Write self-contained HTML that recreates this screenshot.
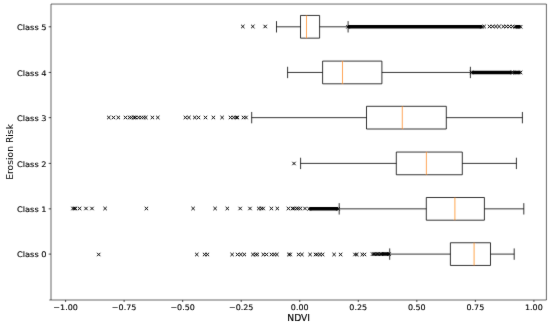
<!DOCTYPE html>
<html><head><meta charset="utf-8"><title>Boxplot</title>
<style>html,body{margin:0;padding:0;background:#fff;}svg{display:block;}</style>
</head><body>
<svg width="550" height="324" viewBox="0 0 550 324">
<defs><filter id="b" filterUnits="userSpaceOnUse" x="0" y="0" width="550" height="324"><feConvolveMatrix order="3" kernelMatrix="0.0064 0.0672 0.0064 0.0672 0.7056 0.0672 0.0064 0.0672 0.0064" divisor="1" edgeMode="duplicate" preserveAlpha="false"/></filter><filter id="t" filterUnits="userSpaceOnUse" x="0" y="0" width="550" height="324"><feConvolveMatrix order="3" kernelMatrix="0.0036 0.0528 0.0036 0.0528 0.7744 0.0528 0.0036 0.0528 0.0036" divisor="1" edgeMode="duplicate" preserveAlpha="false"/></filter></defs>
<rect width="550" height="324" fill="#fff"/>
<g filter="url(#b)">
<path d="M241.1 24.8l3.4 3.4M241.1 28.2l3.4 -3.4M251.1 24.8l3.4 3.4M251.1 28.2l3.4 -3.4M263.5 24.8l3.4 3.4M263.5 28.2l3.4 -3.4M346.3 25.1l3.4 3.4M346.3 28.5l3.4 -3.4M480.3 25.1l3.4 3.4M480.3 28.5l3.4 -3.4M482.4 24.8l3.4 3.4M482.4 28.2l3.4 -3.4M487.8 24.8l3.4 3.4M487.8 28.2l3.4 -3.4M491 24.8l3.4 3.4M491 28.2l3.4 -3.4M494.2 24.8l3.4 3.4M494.2 28.2l3.4 -3.4M497.4 24.8l3.4 3.4M497.4 28.2l3.4 -3.4M501.6 24.8l3.4 3.4M501.6 28.2l3.4 -3.4M504.7 24.8l3.4 3.4M504.7 28.2l3.4 -3.4M507.8 24.8l3.4 3.4M507.8 28.2l3.4 -3.4M510.9 24.8l3.4 3.4M510.9 28.2l3.4 -3.4M513.5 25.1l3.4 3.4M513.5 28.5l3.4 -3.4M518.9 25.1l3.4 3.4M518.9 28.5l3.4 -3.4M469.8 70.75l3.4 3.4M469.8 74.15l3.4 -3.4M510.1 70.75l3.4 3.4M510.1 74.15l3.4 -3.4M511.5 70.75l3.4 3.4M511.5 74.15l3.4 -3.4M518.9 70.75l3.4 3.4M518.9 74.15l3.4 -3.4M107.1 115.8l3.4 3.4M107.1 119.2l3.4 -3.4M111.8 115.8l3.4 3.4M111.8 119.2l3.4 -3.4M116.6 115.8l3.4 3.4M116.6 119.2l3.4 -3.4M123.8 115.8l3.4 3.4M123.8 119.2l3.4 -3.4M127.9 115.8l3.4 3.4M127.9 119.2l3.4 -3.4M129.8 115.8l3.4 3.4M129.8 119.2l3.4 -3.4M132.4 115.8l3.4 3.4M132.4 119.2l3.4 -3.4M133.8 115.8l3.4 3.4M133.8 119.2l3.4 -3.4M137 115.8l3.4 3.4M137 119.2l3.4 -3.4M139.8 115.8l3.4 3.4M139.8 119.2l3.4 -3.4M141.9 115.8l3.4 3.4M141.9 119.2l3.4 -3.4M144.1 115.8l3.4 3.4M144.1 119.2l3.4 -3.4M150.7 115.8l3.4 3.4M150.7 119.2l3.4 -3.4M156.1 115.8l3.4 3.4M156.1 119.2l3.4 -3.4M183.7 115.8l3.4 3.4M183.7 119.2l3.4 -3.4M187.2 115.8l3.4 3.4M187.2 119.2l3.4 -3.4M193.1 115.8l3.4 3.4M193.1 119.2l3.4 -3.4M196.8 115.8l3.4 3.4M196.8 119.2l3.4 -3.4M203.8 115.8l3.4 3.4M203.8 119.2l3.4 -3.4M211.7 115.8l3.4 3.4M211.7 119.2l3.4 -3.4M220.4 115.8l3.4 3.4M220.4 119.2l3.4 -3.4M228.8 115.8l3.4 3.4M228.8 119.2l3.4 -3.4M232 115.8l3.4 3.4M232 119.2l3.4 -3.4M234.5 115.8l3.4 3.4M234.5 119.2l3.4 -3.4M235.7 115.8l3.4 3.4M235.7 119.2l3.4 -3.4M241.8 115.8l3.4 3.4M241.8 119.2l3.4 -3.4M244.3 115.8l3.4 3.4M244.3 119.2l3.4 -3.4M292.3 161.8l3.4 3.4M292.3 165.2l3.4 -3.4M71.3 206.8l3.4 3.4M71.3 210.2l3.4 -3.4M72.5 206.8l3.4 3.4M72.5 210.2l3.4 -3.4M73.7 206.8l3.4 3.4M73.7 210.2l3.4 -3.4M77.9 206.8l3.4 3.4M77.9 210.2l3.4 -3.4M84.3 206.8l3.4 3.4M84.3 210.2l3.4 -3.4M90.3 206.8l3.4 3.4M90.3 210.2l3.4 -3.4M103.4 206.8l3.4 3.4M103.4 210.2l3.4 -3.4M144.7 206.8l3.4 3.4M144.7 210.2l3.4 -3.4M191.4 206.8l3.4 3.4M191.4 210.2l3.4 -3.4M213.4 206.8l3.4 3.4M213.4 210.2l3.4 -3.4M225.6 206.8l3.4 3.4M225.6 210.2l3.4 -3.4M238.5 206.8l3.4 3.4M238.5 210.2l3.4 -3.4M248.3 206.8l3.4 3.4M248.3 210.2l3.4 -3.4M257.1 206.8l3.4 3.4M257.1 210.2l3.4 -3.4M259.7 206.8l3.4 3.4M259.7 210.2l3.4 -3.4M261.5 206.8l3.4 3.4M261.5 210.2l3.4 -3.4M269.7 206.8l3.4 3.4M269.7 210.2l3.4 -3.4M275.6 206.8l3.4 3.4M275.6 210.2l3.4 -3.4M286.7 206.8l3.4 3.4M286.7 210.2l3.4 -3.4M290.8 206.8l3.4 3.4M290.8 210.2l3.4 -3.4M292.3 206.8l3.4 3.4M292.3 210.2l3.4 -3.4M294.8 206.8l3.4 3.4M294.8 210.2l3.4 -3.4M296.5 206.8l3.4 3.4M296.5 210.2l3.4 -3.4M298.7 206.8l3.4 3.4M298.7 210.2l3.4 -3.4M303.3 206.8l3.4 3.4M303.3 210.2l3.4 -3.4M307.5 207.15l3.4 3.4M307.5 210.55l3.4 -3.4M336.3 207.15l3.4 3.4M336.3 210.55l3.4 -3.4M97 252.8l3.4 3.4M97 256.2l3.4 -3.4M195.1 252.8l3.4 3.4M195.1 256.2l3.4 -3.4M202.9 252.8l3.4 3.4M202.9 256.2l3.4 -3.4M205.7 252.8l3.4 3.4M205.7 256.2l3.4 -3.4M230.4 252.8l3.4 3.4M230.4 256.2l3.4 -3.4M235.8 252.8l3.4 3.4M235.8 256.2l3.4 -3.4M239.1 252.8l3.4 3.4M239.1 256.2l3.4 -3.4M242.6 252.8l3.4 3.4M242.6 256.2l3.4 -3.4M251.2 252.8l3.4 3.4M251.2 256.2l3.4 -3.4M253.9 252.8l3.4 3.4M253.9 256.2l3.4 -3.4M255.6 252.8l3.4 3.4M255.6 256.2l3.4 -3.4M261.6 252.8l3.4 3.4M261.6 256.2l3.4 -3.4M264.8 252.8l3.4 3.4M264.8 256.2l3.4 -3.4M269.8 252.8l3.4 3.4M269.8 256.2l3.4 -3.4M272.5 252.8l3.4 3.4M272.5 256.2l3.4 -3.4M275.2 252.8l3.4 3.4M275.2 256.2l3.4 -3.4M287.2 252.8l3.4 3.4M287.2 256.2l3.4 -3.4M288.5 252.8l3.4 3.4M288.5 256.2l3.4 -3.4M296.9 252.8l3.4 3.4M296.9 256.2l3.4 -3.4M300.2 252.8l3.4 3.4M300.2 256.2l3.4 -3.4M308.4 252.8l3.4 3.4M308.4 256.2l3.4 -3.4M313.8 252.8l3.4 3.4M313.8 256.2l3.4 -3.4M315.5 252.8l3.4 3.4M315.5 256.2l3.4 -3.4M318.2 252.8l3.4 3.4M318.2 256.2l3.4 -3.4M320.9 252.8l3.4 3.4M320.9 256.2l3.4 -3.4M332.4 252.8l3.4 3.4M332.4 256.2l3.4 -3.4M338.9 252.8l3.4 3.4M338.9 256.2l3.4 -3.4M353.3 252.8l3.4 3.4M353.3 256.2l3.4 -3.4M355.1 252.8l3.4 3.4M355.1 256.2l3.4 -3.4M360.6 252.8l3.4 3.4M360.6 256.2l3.4 -3.4M362.8 252.8l3.4 3.4M362.8 256.2l3.4 -3.4M370.9 252.4l3.4 3.4M370.9 255.8l3.4 -3.4M372.3 252.4l3.4 3.4M372.3 255.8l3.4 -3.4M373.7 252.4l3.4 3.4M373.7 255.8l3.4 -3.4M375.1 252.4l3.4 3.4M375.1 255.8l3.4 -3.4M376.5 252.4l3.4 3.4M376.5 255.8l3.4 -3.4M377.9 252.4l3.4 3.4M377.9 255.8l3.4 -3.4M379.3 252.4l3.4 3.4M379.3 255.8l3.4 -3.4M379.8 252.4l3.4 3.4M379.8 255.8l3.4 -3.4M387.3 252.4l3.4 3.4M387.3 255.8l3.4 -3.4" stroke="#000" stroke-width="1.0" fill="none"/>
<path d="M348 25.05H482V28.55H348ZM515.2 25.05H520.6V28.55H515.2ZM471.5 70.7H511.8V74.2H471.5ZM513.2 70.7H520.6V74.2H513.2ZM309.2 207.1H338V210.6H309.2ZM381.5 252.35H389V255.85H381.5Z" fill="#000"/>
<path d="M276.5 26.8H300.5M319.6 26.8H348.1M276.5 21.12V32.48M348.1 21.12V32.48M287.6 72.45H322.6M381.9 72.45H470.4M287.6 66.77V78.13M470.4 66.77V78.13M251.7 117.65H366.5M446.3 117.65H522.4M251.7 111.97V123.33M522.4 111.97V123.33M300.6 163.4H396.3M462.3 163.4H516.4M300.6 157.72V169.08M516.4 157.72V169.08M339.2 208.85H426.3M484.4 208.85H523.8M339.2 203.17V214.53M523.8 203.17V214.53M389.7 254.1H450.4M490.5 254.1H514.2M389.7 248.42V259.78M514.2 248.42V259.78" stroke="#000" stroke-width="0.8" fill="none"/>
<path d="M300.5 15.45H319.6V38.15H300.5ZM322.6 61.1H381.9V83.8H322.6ZM366.5 106.3H446.3V129H366.5ZM396.3 152.05H462.3V174.75H396.3ZM426.3 197.5H484.4V220.2H426.3ZM450.4 242.75H490.5V265.45H450.4Z" stroke="#000" stroke-width="0.8" fill="none"/>
<path d="M306.5 15.45V38.15M342.5 61.1V83.8M402.3 106.3V129M426.4 152.05V174.75M454.9 197.5V220.2M474.1 242.75V265.45" stroke="#ff7f0e" stroke-width="0.7" fill="none"/>
<path d="M51 4.05V300H546.4V4.05ZM49.3 300H51" stroke="#000" stroke-width="0.6" fill="none"/>
<path d="M65.6 300v2.0M124.14 300v2.0M182.68 300v2.0M241.21 300v2.0M299.75 300v2.0M358.29 300v2.0M416.82 300v2.0M475.36 300v2.0M533.9 300v2.0M51 254.1h-2.3M51 208.85h-2.3M51 163.4h-2.3M51 117.65h-2.3M51 72.45h-2.3M51 26.8h-2.3" stroke="#000" stroke-width="0.7"/>
</g>
<g filter="url(#t)">
<g font-family="DejaVu Sans, Liberation Sans, sans-serif" font-size="8.1" fill="#000" stroke="#000" stroke-width="0.12">
<text x="65.6" y="310.0" text-anchor="middle" font-size="7.6" textLength="24.51" lengthAdjust="spacingAndGlyphs">−1.00</text>
<text x="124.14" y="310.0" text-anchor="middle" font-size="7.6" textLength="24.51" lengthAdjust="spacingAndGlyphs">−0.75</text>
<text x="182.68" y="310.0" text-anchor="middle" font-size="7.6" textLength="24.51" lengthAdjust="spacingAndGlyphs">−0.50</text>
<text x="241.21" y="310.0" text-anchor="middle" font-size="7.6" textLength="24.51" lengthAdjust="spacingAndGlyphs">−0.25</text>
<text x="299.75" y="310.0" text-anchor="middle" font-size="7.6" textLength="17.82" lengthAdjust="spacingAndGlyphs">0.00</text>
<text x="358.29" y="310.0" text-anchor="middle" font-size="7.6" textLength="17.82" lengthAdjust="spacingAndGlyphs">0.25</text>
<text x="416.82" y="310.0" text-anchor="middle" font-size="7.6" textLength="17.82" lengthAdjust="spacingAndGlyphs">0.50</text>
<text x="475.36" y="310.0" text-anchor="middle" font-size="7.6" textLength="17.82" lengthAdjust="spacingAndGlyphs">0.75</text>
<text x="533.9" y="310.0" text-anchor="middle" font-size="7.6" textLength="17.82" lengthAdjust="spacingAndGlyphs">1.00</text>
<text x="46.6" y="257.4" text-anchor="end" font-size="7.6" textLength="29.6" lengthAdjust="spacingAndGlyphs">Class 0</text>
<text x="46.6" y="212.15" text-anchor="end" font-size="7.6" textLength="29.6" lengthAdjust="spacingAndGlyphs">Class 1</text>
<text x="46.6" y="166.7" text-anchor="end" font-size="7.6" textLength="29.6" lengthAdjust="spacingAndGlyphs">Class 2</text>
<text x="46.6" y="120.95" text-anchor="end" font-size="7.6" textLength="29.6" lengthAdjust="spacingAndGlyphs">Class 3</text>
<text x="46.6" y="75.75" text-anchor="end" font-size="7.6" textLength="29.6" lengthAdjust="spacingAndGlyphs">Class 4</text>
<text x="46.6" y="30.1" text-anchor="end" font-size="7.6" textLength="29.6" lengthAdjust="spacingAndGlyphs">Class 5</text>
</g>
<g font-family="DejaVu Sans, Liberation Sans, sans-serif" font-size="9.2" fill="#000" stroke="#000" stroke-width="0.15">
<text x="298.7" y="320.6" text-anchor="middle">NDVI</text>
<text transform="translate(13.3 151.9) rotate(-90)" text-anchor="middle" stroke-width="0.0">Erosion Risk</text>
</g>
</g>
</svg>
</body></html>
